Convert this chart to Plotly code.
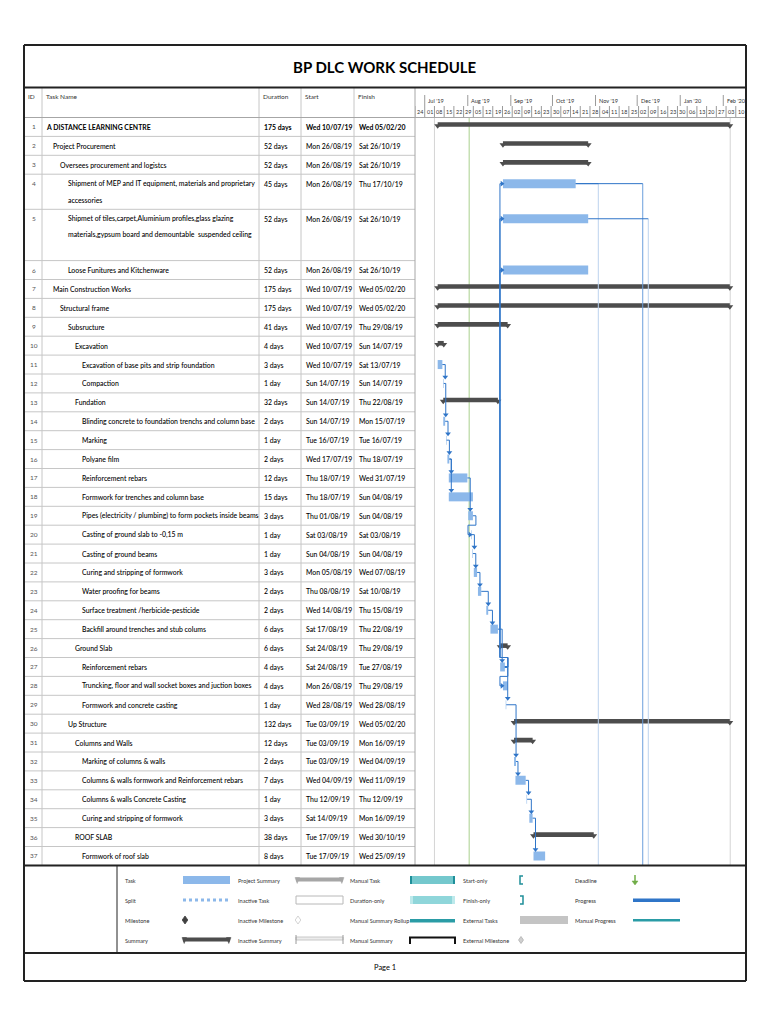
import plotly.graph_objects as go
from datetime import datetime, timedelta

# ---------------- data ----------------
ids = list(range(1, 38))
task_names = [
    "A DISTANCE LEARNING CENTRE",
    "Project Procurement",
    "Oversees procurement and logistcs",
    "Shipment of MEP and IT equipment, materials and proprietary\naccessories",
    "Shipmet of tiles,carpet,Aluminium profiles,glass glazing\nmaterials,gypsum board and demountable  suspended ceiling",
    "Loose Funitures and Kitchenware",
    "Main Construction Works",
    "Structural frame",
    "Subsructure",
    "Excavation",
    "Excavation of base pits and strip foundation",
    "Compaction",
    "Fundation",
    "Blinding concrete to foundation trenchs and column base",
    "Marking",
    "Polyane film",
    "Reinforcement rebars",
    "Formwork for trenches and column base",
    "Pipes (electricity / plumbing) to form pockets inside beams",
    "Casting of ground slab to -0,15 m",
    "Casting of ground beams",
    "Curing and stripping of formwork",
    "Water proofing for beams",
    "Surface treatment /herbicide-pesticide",
    "Backfill around trenches and stub colums",
    "Ground Slab",
    "Reinforcement rebars",
    "Truncking, floor and wall socket boxes and juction boxes",
    "Formwork and concrete casting",
    "Up Structure",
    "Columns and Walls",
    "Marking of columns & walls",
    "Columns & walls formwork and Reinforcement rebars",
    "Columns & walls Concrete Casting",
    "Curing and stripping of formwork",
    "ROOF SLAB",
    "Formwork of roof slab",
]
outline_levels = [1, 2, 3, 4, 4, 4, 2, 3, 4, 5, 6, 6, 5] + [6] * 12 + [5, 6, 6, 6] + [4, 5, 6, 6, 6, 6] + [5, 6]
durations = ["175 days", "52 days", "52 days", "45 days", "52 days", "52 days", "175 days", "175 days",
             "41 days", "4 days", "3 days", "1 day", "32 days", "2 days", "1 day", "2 days", "12 days",
             "15 days", "3 days", "1 day", "1 day", "3 days", "2 days", "2 days", "6 days", "6 days",
             "4 days", "4 days", "1 day", "132 days", "12 days", "2 days", "7 days", "1 day", "3 days",
             "38 days", "8 days"]
starts = ["Wed 10/07/19", "Mon 26/08/19", "Mon 26/08/19", "Mon 26/08/19", "Mon 26/08/19", "Mon 26/08/19",
          "Wed 10/07/19", "Wed 10/07/19", "Wed 10/07/19", "Wed 10/07/19", "Wed 10/07/19", "Sun 14/07/19",
          "Sun 14/07/19", "Sun 14/07/19", "Tue 16/07/19", "Wed 17/07/19", "Thu 18/07/19", "Thu 18/07/19",
          "Thu 01/08/19", "Sat 03/08/19", "Sun 04/08/19", "Mon 05/08/19", "Thu 08/08/19", "Wed 14/08/19",
          "Sat 17/08/19", "Sat 24/08/19", "Sat 24/08/19", "Mon 26/08/19", "Wed 28/08/19", "Tue 03/09/19",
          "Tue 03/09/19", "Tue 03/09/19", "Wed 04/09/19", "Thu 12/09/19", "Sat 14/09/19", "Tue 17/09/19",
          "Tue 17/09/19"]
finishes = ["Wed 05/02/20", "Sat 26/10/19", "Sat 26/10/19", "Thu 17/10/19", "Sat 26/10/19", "Sat 26/10/19",
            "Wed 05/02/20", "Wed 05/02/20", "Thu 29/08/19", "Sun 14/07/19", "Sat 13/07/19", "Sun 14/07/19",
            "Thu 22/08/19", "Mon 15/07/19", "Tue 16/07/19", "Thu 18/07/19", "Wed 31/07/19", "Sun 04/08/19",
            "Sun 04/08/19", "Sat 03/08/19", "Sun 04/08/19", "Wed 07/08/19", "Sat 10/08/19", "Thu 15/08/19",
            "Thu 22/08/19", "Thu 29/08/19", "Tue 27/08/19", "Thu 29/08/19", "Wed 28/08/19", "Wed 05/02/20",
            "Mon 16/09/19", "Wed 04/09/19", "Wed 11/09/19", "Thu 12/09/19", "Mon 16/09/19", "Wed 30/10/19",
            "Wed 25/09/19"]
# finish-to-start links (predecessor id, successor id)
links = [(11, 12), (12, 14), (14, 15), (15, 16), (16, 17), (16, 18), (17, 19), (19, 20), (20, 21),
         (21, 22), (22, 23), (23, 24), (24, 25), (25, 27), (27, 4), (27, 5), (27, 6), (27, 28), (27, 29),
         (29, 32), (32, 33), (33, 34), (34, 35), (35, 37)]
# links to successors on later pages (predecessor id, successor start)
offpage_links = [(4, "2019-11-03"), (4, "2019-12-05"), (5, "2019-12-09")]
status_date = "2019-08-02"
project_lines = ["2019-07-08", "2020-02-06"]
timescale_start, timescale_end = "2019-06-24", "2020-02-17"
row_lines = [1, 1, 1, 2, 3] + [1] * 32

legend_items = [
    ["Task", "Split", "Milestone", "Summary"],
    ["Project Summary", "Inactive Task", "Inactive Milestone", "Inactive Summary"],
    ["Manual Task", "Duration-only", "Manual Summary Rollup", "Manual Summary"],
    ["Start-only", "Finish-only", "External Tasks", "External Milestone"],
    ["Deadline", "Progress", "Manual Progress", ""],
]

# ---------------- layout constants ----------------
W, H = 768, 1024
FONT = "Lato, Roboto, sans-serif"
BX0, BX1 = 24, 746
BY0, TITLE_B, HDR_B = 45, 87.5, 117.5
COLS = [24, 42, 259, 301, 354, 415]
G_R = 745.5
BASE_H, EXTRA_H = 18.9, 16.2
BAR_COL = "#8cb8ea"
SUM_COL = "#4d4d4d"
LINK_COL = "#2f75c8"
OFFPAGE_COLS = ["#bcd3ee", "#6b9fdc", "#bcd3ee"]
GRID = "#c6c6c6"
TXT = 6.9


def PXx(x):
    return x / W


def PXy(y):
    return 1 - y / H


def parse(s):
    return datetime.strptime(s[4:], "%d/%m/%y")


n = len(ids)
row_h = [BASE_H + (k - 1) * EXTRA_H for k in row_lines]
row_top = []
acc = 0.0
for h in row_h:
    row_top.append(acc)
    acc += h
total = acc
TBL_B = HDR_B + total
line_c = [t + BASE_H / 2 for t in row_top]

is_summary = [i < n - 1 and outline_levels[i + 1] > outline_levels[i] for i in range(n)]
s_dt = [parse(s) + timedelta(hours=8) for s in starts]
e_dt = [parse(f) + timedelta(hours=17) for f in finishes]

t0 = datetime.fromisoformat(timescale_start)
t1 = datetime.fromisoformat(timescale_end)
PX = (t1 - t0) / (G_R - COLS[-1])  # time span of one pixel

fig = go.Figure()

# ---------------- off-page link verticals (behind) ----------------
for (p, d), col in zip(offpage_links, OFFPAGE_COLS):
    pi = p - 1
    tx = datetime.fromisoformat(d)
    fig.add_trace(go.Scatter(x=[tx, tx], y=[line_c[pi], total], mode="lines",
                             line=dict(color=col, width=1), hoverinfo="skip", showlegend=False))

# ---------------- gantt bars ----------------
ti = [i for i in range(n) if not is_summary[i]]
fig.add_trace(go.Bar(
    orientation="h", y=[line_c[i] for i in ti],
    x=[(e_dt[i] - s_dt[i]).total_seconds() * 1000 for i in ti],
    base=[s_dt[i].isoformat() for i in ti], width=9,
    marker=dict(color=BAR_COL, line=dict(width=0)), hoverinfo="skip", showlegend=False))

si = [i for i in range(n) if is_summary[i]]
fig.add_trace(go.Bar(
    orientation="h", y=[line_c[i] - 2.4 for i in si],
    x=[(e_dt[i] - s_dt[i]).total_seconds() * 1000 for i in si],
    base=[s_dt[i].isoformat() for i in si], width=4.6,
    marker=dict(color=SUM_COL, line=dict(width=0)), hoverinfo="skip", showlegend=False))
fig.add_trace(go.Scatter(
    x=[s_dt[i] for i in si] + [e_dt[i] for i in si],
    y=[line_c[i] - 1.2 for i in si] * 2, mode="markers",
    marker=dict(symbol="triangle-down", size=6, color=SUM_COL, line=dict(width=0)),
    hoverinfo="skip", showlegend=False))

# ---------------- links ----------------
lx, ly = [], []
adx, ady, arx, ary = [], [], [], []
for p, s in links:
    pi, sj = p - 1, s - 1
    pe, ss = e_dt[pi], s_dt[sj]
    pc, sc = line_c[pi], line_c[sj]
    if parse(finishes[pi]) <= parse(starts[sj]):
        vx = max(ss, pe) + 2 * PX
        lx += [pe, vx, vx, None]
        ly += [pc, pc, sc - 6.5, None]
        adx.append(vx)
        ady.append(sc - 6.5)
    else:
        x1 = pe + 3 * PX
        yb = row_top[pi] + row_h[pi] if sj > pi else row_top[pi]
        x2 = ss - 3 * PX
        lx += [pe, x1, x1, x2, x2, ss - PX, None]
        ly += [pc, pc, yb, yb, sc, sc, None]
        arx.append(ss - PX)
        ary.append(sc)
for p, d in offpage_links:
    pi = p - 1
    tx = datetime.fromisoformat(d)
    lx += [e_dt[pi], tx, None]
    ly += [line_c[pi], line_c[pi], None]

fig.add_trace(go.Scatter(x=lx, y=ly, mode="lines", line=dict(color=LINK_COL, width=1),
                         hoverinfo="skip", showlegend=False))
fig.add_trace(go.Scatter(x=adx, y=ady, mode="markers",
                         marker=dict(symbol="triangle-down", size=5, color=LINK_COL),
                         hoverinfo="skip", showlegend=False))
fig.add_trace(go.Scatter(x=arx, y=ary, mode="markers",
                         marker=dict(symbol="triangle-right", size=5, color=LINK_COL),
                         hoverinfo="skip", showlegend=False))

shapes = []
annos = []


def line(x0, y0, x1, y1, color="#000", width=1, xref="paper", yref="paper", dash=None):
    d = dict(type="line", x0=x0, y0=y0, x1=x1, y1=y1, xref=xref, yref=yref,
             line=dict(color=color, width=width), layer="below" if xref == "x" else "above")
    if dash:
        d["line"]["dash"] = dash
    shapes.append(d)


def text(x, y, t, size=TXT, color="#000", anchor="left", yref="paper", bold=False, xref="paper",
         weight=None):
    if bold:
        t = "<b>" + t + "</b>"
    f = dict(family=FONT, size=size, color=color)
    if weight:
        f["weight"] = weight
    annos.append(dict(x=x, y=y, xref=xref, yref=yref, text=t.replace("&", "&amp;"), showarrow=False,
                      xanchor=anchor, yanchor="middle", font=f))


# vertical reference lines in gantt
for d in project_lines:
    line(d, 0, d, total, color="#d4d4d4", width=1, xref="x", yref="y")
line(status_date, 0, status_date, total, color="#a9d18e", width=1, xref="x", yref="y")

# ---------------- table ----------------
for i in range(n):
    top = row_top[i]
    yb = top + row_h[i]
    line(PXx(COLS[0]), PXy(HDR_B + yb), PXx(COLS[-1]), PXy(HDR_B + yb), color=GRID)
    text(PXx(34), line_c[i], str(ids[i]), size=6.5, color="#555", anchor="center", yref="y")
    indent = 44 + (outline_levels[i] - 1) * 7.2
    wgt = None if i == 0 else 500
    for k, part in enumerate(task_names[i].split("\n")):
        text(PXx(indent), line_c[i] + k * EXTRA_H, part, yref="y", bold=(i == 0), weight=wgt)
    text(PXx(COLS[2] + 2.5), line_c[i], durations[i], yref="y", bold=(i == 0), weight=wgt)
    text(PXx(COLS[3] + 2.5), line_c[i], starts[i], yref="y", bold=(i == 0), weight=wgt)
    text(PXx(COLS[4] + 2.5), line_c[i], finishes[i], yref="y", bold=(i == 0), weight=wgt)

for cx in COLS[1:-1]:
    line(PXx(cx), PXy(TITLE_B), PXx(cx), PXy(TBL_B), color=GRID)
line(PXx(COLS[-1]), PXy(TITLE_B), PXx(COLS[-1]), PXy(TBL_B), color="#a6a6a6")
line(PXx(BX0), PXy(HDR_B), PXx(G_R), PXy(HDR_B), color="#a6a6a6")

hdr = [("ID", 26), ("Task Name", 44), ("Duration", 261), ("Start", 303), ("Finish", 356)]
for t, x in hdr:
    text(PXx(x), PXy(96), t, size=6.5, color="#333")

# timescale header
wk = t0
while wk < t1:
    line(wk.strftime("%Y-%m-%d"), PXy(106), wk.strftime("%Y-%m-%d"), PXy(HDR_B), color="#9a9a9a",
         xref="x")
    text((wk + timedelta(days=3.5)).strftime("%Y-%m-%d %H:%M"), PXy(111.5), wk.strftime("%d"),
         size=5.4, color="#333", anchor="center", xref="x")
    wk += timedelta(days=7)
m = datetime(2019, 7, 1)
while m < t1:
    line(m.strftime("%Y-%m-%d"), PXy(95), m.strftime("%Y-%m-%d"), PXy(106), color="#9a9a9a", xref="x")
    text((m + 1.5 * PX).isoformat(), PXy(100.5), m.strftime("%b '%y"), size=5.6, color="#333",
         xref="x")
    m = datetime(m.year + (m.month == 12), m.month % 12 + 1, 1)

# ---------------- frame ----------------
for y in (BY0, TITLE_B, TBL_B, 953, 981):
    line(PXx(BX0), PXy(y), PXx(BX1), PXy(y), color="#222", width=2)
line(PXx(BX0), PXy(BY0), PXx(BX0), PXy(981), color="#222", width=2)
line(PXx(BX1), PXy(BY0), PXx(BX1), PXy(981), color="#222", width=2)
line(PXx(117), PXy(TBL_B), PXx(117), PXy(953), color="#222", width=1)

text(PXx(385), PXy(67), "BP DLC WORK SCHEDULE", size=15, color="#000", anchor="center", bold=True)
text(PXx(385), PXy(967), "Page 1", size=7.5, color="#000", anchor="center")

# ---------------- legend ----------------
LEG_Y = [880, 900, 920, 940]
LEG_LX = [123, 236, 348, 461, 573]
LEG_SX = [183, 296, 410, 520, 633]
for c, col in enumerate(legend_items):
    for r, lab in enumerate(col):
        if lab:
            text(PXx(LEG_LX[c]), PXy(LEG_Y[r]), lab, size=5.6, color="#333")


def rect(x0, y0, x1, y1, fill, outline=None, w=1):
    shapes.append(dict(type="rect", xref="paper", yref="paper", x0=PXx(x0), x1=PXx(x1),
                       y0=PXy(y0), y1=PXy(y1), fillcolor=fill,
                       line=dict(color=outline or fill, width=w if outline else 0)))


def path(pts, fill=None, color="#000", w=1):
    p = "M " + " L ".join(f"{PXx(a):.5f},{PXy(b):.5f}" for a, b in pts)
    if fill:
        p += " Z"
    shapes.append(dict(type="path", xref="paper", yref="paper", path=p, fillcolor=fill,
                       line=dict(color=color, width=w)))


def sumbar(x0, x1, yc, col):
    rect(x0, yc - 2.5, x1, yc + 1.5, col)
    path([(x0 - 1, yc - 2.5), (x0 + 3.5, yc - 2.5), (x0 + 1.2, yc + 3.5)], fill=col, color=col, w=0.5)
    path([(x1 - 3.5, yc - 2.5), (x1 + 1, yc - 2.5), (x1 - 1.2, yc + 3.5)], fill=col, color=col, w=0.5)


def diamond(x, y, r, fill, outline):
    path([(x, y - r), (x + r * 0.7, y), (x, y + r), (x - r * 0.7, y)], fill=fill, color=outline, w=0.8)


sx = LEG_SX
# column A
rect(sx[0], 876, sx[0] + 47, 884, BAR_COL)
line(PXx(sx[0]), PXy(900), PXx(sx[0] + 47), PXy(900), color=BAR_COL, width=3, dash="dot")
diamond(sx[0] + 2, 920, 4, "#404040", "#404040")
sumbar(sx[0], sx[0] + 47, 940, SUM_COL)
# column B
sumbar(sx[1], sx[1] + 47, 880, "#a6a6a6")
rect(sx[1], 896, sx[1] + 47, 904, "#ffffff", "#b8b8b8")
diamond(sx[1] + 2, 920, 4, "#ffffff", "#c8c8c8")
rect(sx[1], 937, sx[1] + 47, 940, "#ececec", "#c8c8c8")
line(PXx(sx[1]), PXy(935), PXx(sx[1]), PXy(944), color="#9a9a9a")
line(PXx(sx[1] + 47), PXy(935), PXx(sx[1] + 47), PXy(944), color="#9a9a9a")
# column C
rect(sx[2], 876, sx[2] + 45, 884, "#74c8cd")
rect(sx[2], 876, sx[2] + 2, 884, "#1f8f99")
rect(sx[2] + 43, 876, sx[2] + 45, 884, "#1f8f99")
rect(sx[2], 896, sx[2] + 45, 904, "#8fd6da")
rect(sx[2], 896, sx[2] + 3, 904, "#bde9eb")
rect(sx[2] + 42, 896, sx[2] + 45, 904, "#bde9eb")
rect(sx[2], 919, sx[2] + 45, 922.5, "#2a9ca6")
path([(sx[2], 944), (sx[2], 937.5), (sx[2] + 45, 937.5), (sx[2] + 45, 944)], color="#111", w=2)
# column D
path([(sx[3] + 3, 876), (sx[3], 876), (sx[3], 884), (sx[3] + 3, 884)], color="#1f8f99", w=1.5)
path([(sx[3], 896), (sx[3] + 3, 896), (sx[3] + 3, 904), (sx[3], 904)], color="#1f8f99", w=1.5)
rect(sx[3], 916, sx[3] + 48, 924, "#c4c4c4")
diamond(sx[3] + 1, 940, 3.5, "#d0d0d0", "#b0b0b0")
# column E
path([(sx[4] + 2, 875), (sx[4] + 2, 882)], color="#70ad47", w=1.5)
path([(sx[4] - 1, 881), (sx[4] + 5, 881), (sx[4] + 2, 885)], fill="#70ad47", color="#70ad47", w=0.5)
rect(sx[4], 898.5, sx[4] + 47, 902, "#2f75c8")
rect(sx[4], 919, sx[4] + 47, 921.5, "#2a9ca6")

fig.update_layout(
    width=W, height=H, autosize=False, margin=dict(l=0, r=0, t=0, b=0),
    paper_bgcolor="white", plot_bgcolor="rgba(0,0,0,0)",
    barmode="overlay", showlegend=False, shapes=shapes, annotations=annos,
    xaxis=dict(type="date", domain=[COLS[-1] / W, G_R / W], range=[timescale_start, timescale_end],
               visible=False, fixedrange=True),
    yaxis=dict(domain=[1 - TBL_B / H, 1 - HDR_B / H], range=[total, 0], visible=False,
               fixedrange=True),
)
fig.write_html("out.html", config={"displayModeBar": False, "staticPlot": True},
               post_script="document.body.style.margin='0';")
